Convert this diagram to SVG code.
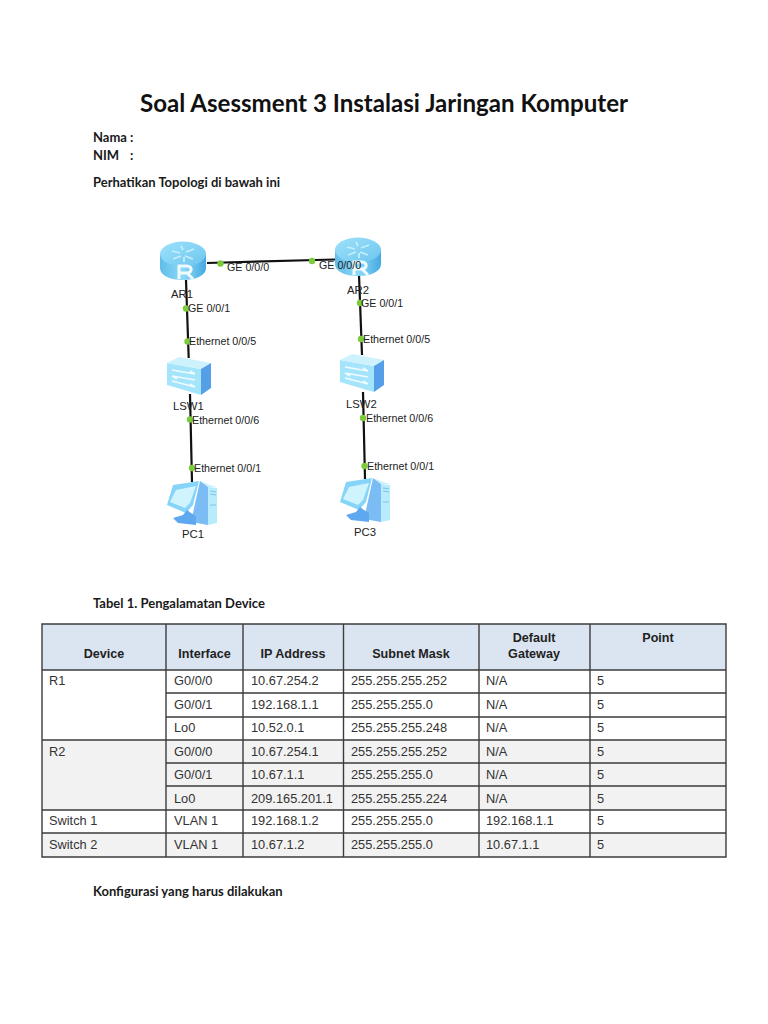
<svg xmlns="http://www.w3.org/2000/svg" width="768" height="1024" viewBox="0 0 768 1024">
<style>
.doc{font-family:"Lato","Open Sans","Liberation Sans",sans-serif;font-weight:700;fill:#1a1a1a;font-size:13px}
.title{font-size:24.1px;fill:#111}
.lab{font-family:"Liberation Sans",Arial,sans-serif;font-size:10.7px;fill:#222}
.name{font-family:"Liberation Sans",Arial,sans-serif;font-size:11.3px;fill:#222}
.link{stroke:#111;stroke-width:2.2;fill:none}
.dot{fill:#7ccb3c}
.th{font-family:"Liberation Sans",Arial,sans-serif;font-weight:700;font-size:12.6px;fill:#222;text-anchor:middle}
.td{font-family:"Liberation Sans",Arial,sans-serif;font-size:12.8px;fill:#333}
.grid{stroke:#3c3c3c;stroke-width:1.4;fill:none}
</style>
<defs>
<filter id="soft" x="-5%" y="-5%" width="110%" height="110%"><feGaussianBlur stdDeviation="0.4"/></filter>
<linearGradient id="rside" x1="0" x2="1" y1="0" y2="0"><stop offset="0" stop-color="#5fbdea"/><stop offset=".5" stop-color="#8ed9f7"/><stop offset="1" stop-color="#45a9e2"/></linearGradient>
<linearGradient id="rtop" x1="0" x2="1" y1="0" y2="1"><stop offset="0" stop-color="#9fe2fb"/><stop offset="1" stop-color="#6cc5ee"/></linearGradient>
<g id="router" filter="url(#soft)">
<path d="M0 12V26C0 33.500 10 38 23 38S46 33.500 46 26V12Z" fill="url(#rside)"/>
<ellipse cx="23" cy="12" rx="23" ry="12.500" fill="url(#rtop)"/>
<path d="M12 9l8 2M34 7l-8 3M13 17l8-3M33 17l-8-3M21 4l2 4M24 20l0-5" stroke="#c5eefc" stroke-width="1.800" fill="none"/>
<path d="M19 37V24H27C32.500 24 32.500 31 27 31H20M27 31L33 37" stroke="#eefbff" stroke-width="3" fill="none"/>
</g>
<g id="switch" filter="url(#soft)">
<path d="M0 6L34 12V38L0 28Z" fill="#a4e5fb"/>
<path d="M0 6L12 0L44 6L34 12Z" fill="#cdf2fd"/>
<path d="M34 12L44 6V31L34 38Z" fill="#549fe8"/>
<path d="M5 13L28 17M28 17l-5-3M28 23L5 19M5 19l5 3M5 24L28 30M28 30l-5-3" stroke="#f0fbff" stroke-width="1.700" fill="none"/>
</g>
<g id="pc" filter="url(#soft)">
<path d="M33 1L43 5L50 7L41 7Z" fill="#c9f1fd"/>
<path d="M33 1L41 7V45L24 42Z" fill="#7cbcf5"/>
<path d="M41 7L50 8V43L41 45Z" fill="#b8ebfb"/>
<path d="M43 11L49 12M43 14L49 15M43 25L49 25" stroke="#7cc4ea" stroke-width="1"/>
<path d="M6 5L32 1L26 25L19 33L0 25Z" fill="#86d4f7"/>
<path d="M9 10L29 6L23 23L18 28L3 22Z" fill="#d0f4fd"/>
<path d="M6 38L16 35L20 30L24 33L29 36V45L11 43Z" fill="#5fa8ef"/>
</g>
</defs>
<rect width="768" height="1024" fill="#fff"/>
<g id="header">
<text class="doc title" x="384" y="112" text-anchor="middle">Soal Asessment 3 Instalasi Jaringan Komputer</text>
<text class="doc" x="93" y="142">Nama :</text>
<text class="doc" x="93" y="160">NIM</text>
<text class="doc" x="130" y="160">:</text>
<text class="doc" x="93" y="187">Perhatikan Topologi di bawah ini</text>
</g>
<g id="connectors">
<path class="link" d="M207 263L335 259.500"/>
<path class="link" d="M186 280L188.700 358"/>
<path class="link" d="M359 275L362 355"/>
<path class="link" d="M190 394L192 482"/>
<path class="link" d="M363 392L365 479"/>
<circle class="dot" cx="220.500" cy="263.500" r="3.200"/><circle class="dot" cx="312" cy="261" r="3.200"/>
<circle class="dot" cx="186" cy="308.500" r="3.200"/><circle class="dot" cx="187.500" cy="341.500" r="3.200"/>
<circle class="dot" cx="190" cy="419.500" r="3.200"/><circle class="dot" cx="192" cy="468" r="3.200"/>
<circle class="dot" cx="360" cy="303" r="3.200"/><circle class="dot" cx="361" cy="339" r="3.200"/>
<circle class="dot" cx="363" cy="418" r="3.200"/><circle class="dot" cx="364.500" cy="466" r="3.200"/>
</g>
<g id="AR1"><use href="#router" x="160" y="242"/><text class="name" x="171" y="298">AR1</text></g>
<g id="AR2"><use href="#router" x="335" y="238"/><text class="name" x="347" y="294">AR2</text></g>
<g id="LSW1"><use href="#switch" x="167" y="357"/><text class="name" x="173" y="410">LSW1</text></g>
<g id="LSW2"><use href="#switch" x="340" y="354"/><text class="name" x="346" y="408">LSW2</text></g>
<g id="PC1"><use href="#pc" x="167" y="480"/><text class="name" x="182" y="538">PC1</text></g>
<g id="PC3"><use href="#pc" x="340" y="477"/><text class="name" x="354" y="536">PC3</text></g>
<g id="connector-labels">
<text class="lab" x="227" y="271">GE 0/0/0</text><text class="lab" x="319" y="269">GE 0/0/0</text>
<text class="lab" x="188" y="312">GE 0/0/1</text><text class="lab" x="361" y="307">GE 0/0/1</text>
<text class="lab" x="189" y="345">Ethernet 0/0/5</text><text class="lab" x="363" y="343">Ethernet 0/0/5</text>
<text class="lab" x="192" y="424">Ethernet 0/0/6</text><text class="lab" x="366" y="422">Ethernet 0/0/6</text>
<text class="lab" x="194" y="472">Ethernet 0/0/1</text><text class="lab" x="367" y="470">Ethernet 0/0/1</text>
</g>
<text class="doc" x="93" y="608">Tabel 1. Pengalamatan Device</text>
<g id="table">
<rect x="42" y="624" width="684" height="46" fill="#dbe5f1"/>
<rect x="42" y="740" width="684" height="70" fill="#f2f2f2"/>
<rect x="42" y="833" width="684" height="24" fill="#f2f2f2"/>
<path class="grid" d="M42 624H726V857H42ZM42 670H726M166 693H726M166 717H726M42 740H726M166 763H726M166 786H726M42 810H726M42 833H726M166 624V857M243 624V857M343.500 624V857M479 624V857M590 624V857"/>
<text class="th" x="104" y="658">Device</text>
<text class="th" x="204.500" y="658">Interface</text>
<text class="th" x="293" y="658">IP Address</text>
<text class="th" x="411" y="658">Subnet Mask</text>
<text class="th" x="534" y="642">Default</text>
<text class="th" x="534" y="658">Gateway</text>
<text class="th" x="658" y="642">Point</text>
<text class="td" x="49" y="685">R1</text><text class="td" x="174" y="685">G0/0/0</text><text class="td" x="251" y="685">10.67.254.2</text><text class="td" x="351" y="685">255.255.255.252</text><text class="td" x="486" y="685">N/A</text><text class="td" x="597" y="685">5</text>
<text class="td" x="174" y="709">G0/0/1</text><text class="td" x="251" y="709">192.168.1.1</text><text class="td" x="351" y="709">255.255.255.0</text><text class="td" x="486" y="709">N/A</text><text class="td" x="597" y="709">5</text>
<text class="td" x="174" y="732">Lo0</text><text class="td" x="251" y="732">10.52.0.1</text><text class="td" x="351" y="732">255.255.255.248</text><text class="td" x="486" y="732">N/A</text><text class="td" x="597" y="732">5</text>
<text class="td" x="49" y="756">R2</text><text class="td" x="174" y="756">G0/0/0</text><text class="td" x="251" y="756">10.67.254.1</text><text class="td" x="351" y="756">255.255.255.252</text><text class="td" x="486" y="756">N/A</text><text class="td" x="597" y="756">5</text>
<text class="td" x="174" y="779">G0/0/1</text><text class="td" x="251" y="779">10.67.1.1</text><text class="td" x="351" y="779">255.255.255.0</text><text class="td" x="486" y="779">N/A</text><text class="td" x="597" y="779">5</text>
<text class="td" x="174" y="803">Lo0</text><text class="td" x="251" y="803">209.165.201.1</text><text class="td" x="351" y="803">255.255.255.224</text><text class="td" x="486" y="803">N/A</text><text class="td" x="597" y="803">5</text>
<text class="td" x="49" y="825">Switch 1</text><text class="td" x="174" y="825">VLAN 1</text><text class="td" x="251" y="825">192.168.1.2</text><text class="td" x="351" y="825">255.255.255.0</text><text class="td" x="486" y="825">192.168.1.1</text><text class="td" x="597" y="825">5</text>
<text class="td" x="49" y="849">Switch 2</text><text class="td" x="174" y="849">VLAN 1</text><text class="td" x="251" y="849">10.67.1.2</text><text class="td" x="351" y="849">255.255.255.0</text><text class="td" x="486" y="849">10.67.1.1</text><text class="td" x="597" y="849">5</text>
</g>
<text class="doc" x="93" y="896">Konfigurasi yang harus dilakukan</text>
</svg>
